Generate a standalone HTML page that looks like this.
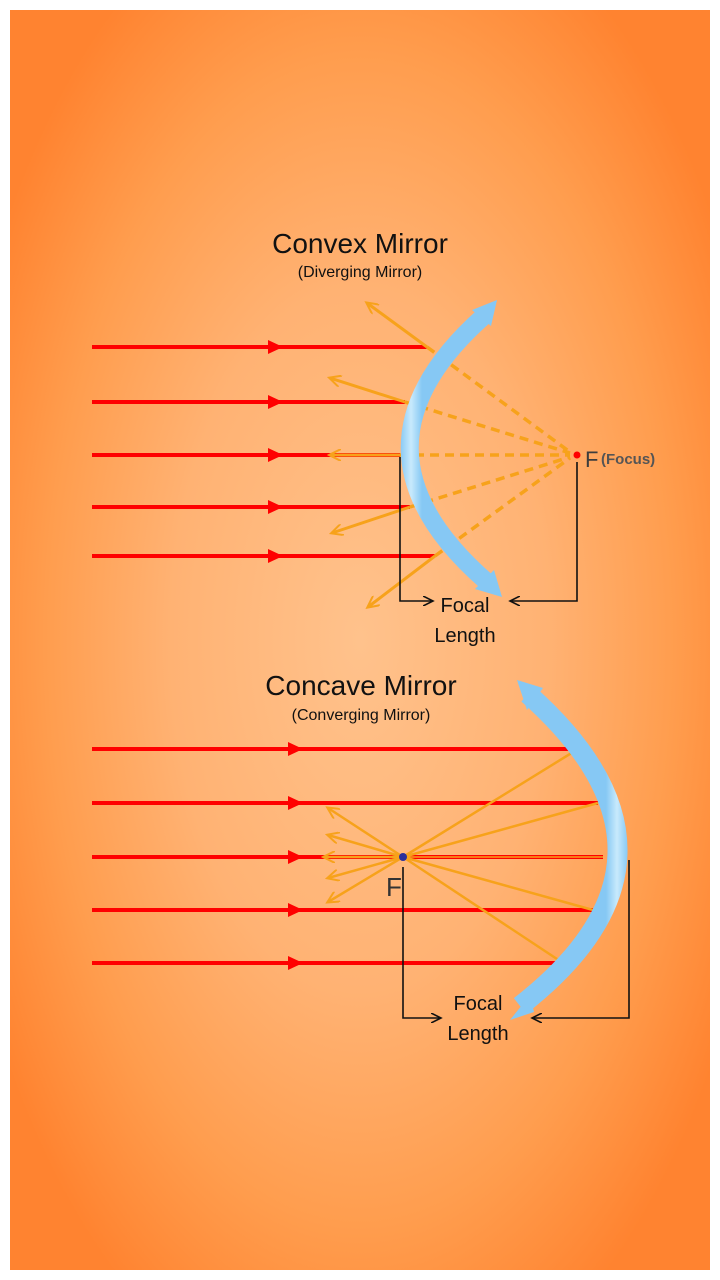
<!DOCTYPE html>
<html><head><meta charset="utf-8"><style>
html,body{margin:0;padding:0;background:#fff;}
.wrap{position:absolute;left:10px;top:10px;width:700px;height:1260px;background:radial-gradient(ellipse 60% 62% at 50% 50%,#ffc28c 0%,#ffb273 45%,#ff9d4e 75%,#ff8330 100%);}
svg{position:absolute;left:0;top:0;}
</style></head><body>
<div class="wrap"></div>
<svg width="720" height="1280" viewBox="0 0 720 1280" font-family="Liberation Sans, sans-serif">
<defs>
<linearGradient id="g1" gradientUnits="userSpaceOnUse" x1="400" y1="0" x2="422" y2="0">
<stop offset="0" stop-color="#86c8f4"/><stop offset="0.5" stop-color="#c8eafc"/><stop offset="1" stop-color="#86c8f4"/></linearGradient>
<linearGradient id="g2" gradientUnits="userSpaceOnUse" x1="606" y1="0" x2="628" y2="0">
<stop offset="0" stop-color="#86c8f4"/><stop offset="0.5" stop-color="#c8eafc"/><stop offset="1" stop-color="#86c8f4"/></linearGradient>
<marker id="ao" markerWidth="14" markerHeight="12" refX="11" refY="6" orient="auto" markerUnits="userSpaceOnUse"><path d="M0,0 L12,6 L0,12" fill="none" stroke="#f7a21b" stroke-width="2"/></marker>
<marker id="ak" markerWidth="12" markerHeight="10" refX="10" refY="5" orient="auto" markerUnits="userSpaceOnUse"><path d="M0,0 L10,5 L0,10" fill="none" stroke="#111" stroke-width="1.6"/></marker>
</defs>

<text x="360" y="253" font-size="28" text-anchor="middle" fill="#111">Convex Mirror</text>
<text x="360" y="277" font-size="16" text-anchor="middle" fill="#111">(Diverging Mirror)</text>

<g stroke="#f00" stroke-width="4">
<line x1="92" y1="347" x2="427" y2="347"/><line x1="92" y1="402" x2="405" y2="402"/>
<line x1="92" y1="455" x2="400" y2="455"/><line x1="92" y1="507" x2="410" y2="507"/>
<line x1="92" y1="556" x2="435" y2="556"/></g>
<g fill="#f00"><path d="M268,340 L283,347 L268,354Z"/><path d="M268,395 L283,402 L268,409Z"/><path d="M268,448 L283,455 L268,462Z"/><path d="M268,500 L283,507 L268,514Z"/><path d="M268,549 L283,556 L268,563Z"/></g>
<g stroke="#f7a21b" stroke-width="3" fill="none" marker-end="url(#ao)">
<line x1="427" y1="347" x2="367" y2="303"/><line x1="405" y1="402" x2="330" y2="378"/>
<line x1="400" y1="455" x2="330" y2="455"/><line x1="410" y1="507" x2="332" y2="533"/>
<line x1="435" y1="556" x2="368" y2="607"/></g>
<g stroke="#f7a21b" stroke-width="3.5" stroke-dasharray="9,6">
<line x1="427" y1="347" x2="570" y2="452"/><line x1="405" y1="402" x2="570" y2="453"/>
<line x1="400" y1="455" x2="570" y2="455"/><line x1="410" y1="507" x2="570" y2="457"/>
<line x1="435" y1="556" x2="570" y2="458"/></g>
<path d="M484,316 Q334,449 487,582" fill="none" stroke="url(#g1)" stroke-width="18"/>
<path d="M472,310 L497,300 L491,326 Z" fill="#86c8f4"/>
<path d="M475,589 L502,597 L494,570 Z" fill="#86c8f4"/>
<circle cx="577" cy="455" r="3.5" fill="#f00"/>
<text x="585" y="467" font-size="22" fill="#3d3d3d">F</text>
<text x="601" y="464" font-size="15" font-weight="bold" fill="#555">(Focus)</text>
<g stroke="#111" stroke-width="1.6" fill="none">
<polyline points="400,457 400,601 433,601" marker-end="url(#ak)"/>
<polyline points="577,462 577,601 510,601" marker-end="url(#ak)"/></g>
<text x="465" y="612" font-size="20" text-anchor="middle" fill="#111">Focal</text>
<text x="465" y="642" font-size="20" text-anchor="middle" fill="#111">Length</text>

<text x="361" y="695" font-size="28" text-anchor="middle" fill="#111">Concave Mirror</text>
<text x="361" y="720" font-size="16" text-anchor="middle" fill="#111">(Converging Mirror)</text>

<g stroke="#f00" stroke-width="4">
<line x1="92" y1="749" x2="578" y2="749"/><line x1="92" y1="803" x2="598" y2="803"/>
<line x1="92" y1="857" x2="603" y2="857"/><line x1="92" y1="910" x2="593" y2="910"/>
<line x1="92" y1="963" x2="563" y2="963"/></g>
<g fill="#f00"><path d="M288,742 L303,749 L288,756Z"/><path d="M288,796 L303,803 L288,810Z"/><path d="M288,850 L303,857 L288,864Z"/><path d="M288,903 L303,910 L288,917Z"/><path d="M288,956 L303,963 L288,970Z"/></g>
<line x1="403" y1="857" x2="603" y2="857" stroke="#f7a21b" stroke-width="1.5"/>
<g stroke="#f7a21b" stroke-width="2.5">
<line x1="578" y1="749" x2="403" y2="857"/><line x1="598" y1="803" x2="403" y2="857"/>
<line x1="593" y1="910" x2="403" y2="857"/><line x1="563" y1="963" x2="403" y2="857"/></g>
<g stroke="#f7a21b" stroke-width="2.5" fill="none" marker-end="url(#ao)">
<line x1="403" y1="857" x2="328" y2="808"/><line x1="403" y1="857" x2="328" y2="835"/>
<line x1="403" y1="857" x2="324" y2="857"/><line x1="403" y1="857" x2="328" y2="878"/>
<line x1="403" y1="857" x2="328" y2="902"/></g>
<path d="M528,694 Q711,857 520,1006" fill="none" stroke="url(#g2)" stroke-width="20"/>
<path d="M517,680 L543,688 L527,710 Z" fill="#86c8f4"/>
<path d="M510,1020 L530,995 L534,1012 Z" fill="#86c8f4"/>
<circle cx="403" cy="857" r="4" fill="#2b2f9a"/>
<text x="386" y="896" font-size="26" fill="#333">F</text>
<g stroke="#111" stroke-width="1.6" fill="none">
<polyline points="403,867 403,1018 441,1018" marker-end="url(#ak)"/>
<polyline points="629,860 629,1018 532,1018" marker-end="url(#ak)"/></g>
<text x="478" y="1010" font-size="20" text-anchor="middle" fill="#111">Focal</text>
<text x="478" y="1040" font-size="20" text-anchor="middle" fill="#111">Length</text>
</svg>
</body></html>
